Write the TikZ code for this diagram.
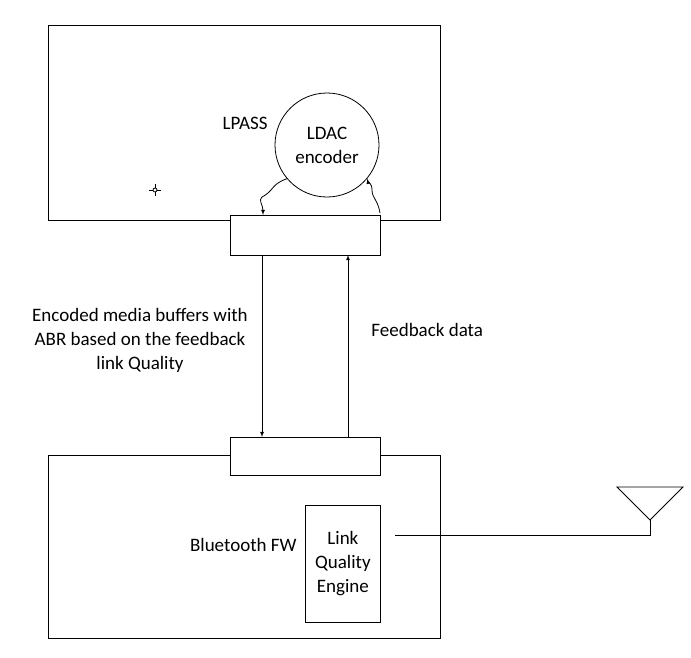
\documentclass[tikz,border=0pt]{standalone}
\usepackage{fontspec}
\setmainfont{Carlito}
\usetikzlibrary{positioning}
\begin{document}
\begin{tikzpicture}[x=1pt,y=-1pt,line width=0.8pt,
  box/.style={draw,rectangle,inner sep=0pt,anchor=north west},
  lbl/.style={font=\fontsize{19}{24}\selectfont,align=center}]
\useasboundingbox (0,0) rectangle (691,657);
% LPASS side
\draw (48,25) rectangle (440,220);
\node[box,fill=white,minimum width=150pt,minimum height=40pt] (tport) at (230,215) {};
\node[draw,circle,minimum size=104pt,inner sep=0pt,lbl,text width=80pt] (ldac) at (327,145) {LDAC\\encoder};
\node[lbl,anchor=east,inner sep=0pt] (lpass) at (268,123) {LPASS};
\draw (149,190) -- (161,190) (155,184) -- (155,196);
\draw[fill=white] (155,190) circle (2);
\draw[-latex] (ldac.-140) .. controls (270,185) and (275,190) .. (262,197) .. controls (258,200) and (263,205) .. (263,215);
\draw[-latex] (380,213) .. controls (378,200) and (372,198) .. (372,190) .. controls (372,183) and (368,182) .. (ldac.-40);
% Bluetooth side
\draw (48,455) rectangle (440,638);
\node[box,fill=white,minimum width=150pt,minimum height=38pt] (bport) at (230,437) {};
\node[box,minimum width=75pt,minimum height=117pt] (lqe) at (305,505) {};
\node[lbl] at (lqe.center) {Link\\Quality\\Engine};
\node[lbl,anchor=east,inner sep=0pt] (btfw) at (297,545) {Bluetooth FW};
% links
\draw[-latex] (262,255) -- (262,437);
\draw[-latex] (348,437) -- (348,255);
\node[lbl] (enc) at (140,340) {Encoded media buffers with\\ABR based on the feedback\\link Quality};
\node[lbl,anchor=west,inner sep=0pt] (fb) at (371,330) {Feedback data};
% antenna
\coordinate (ant) at (650,520);
\draw (395,535) -| (ant);
\draw (ant) -- (617,487) -- (683,487) -- cycle;
\end{tikzpicture}
\end{document}
